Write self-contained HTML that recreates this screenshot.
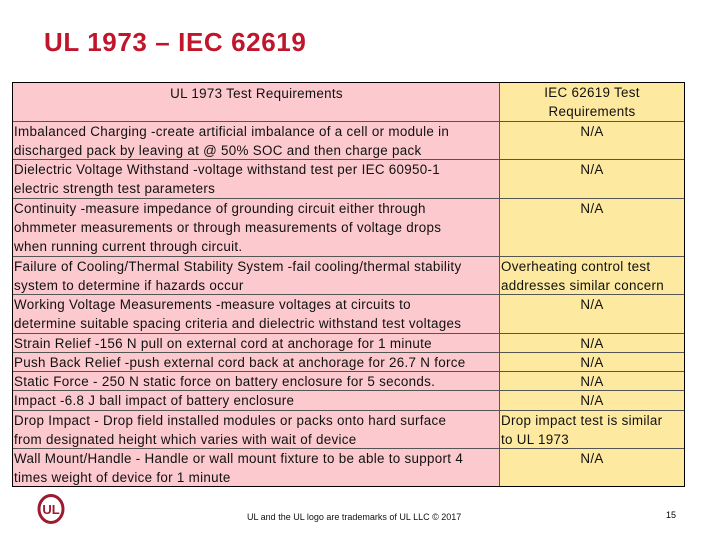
<!DOCTYPE html>
<html><head><meta charset="utf-8"><style>
body{margin:0;width:720px;height:540px;background:#fff;position:relative;overflow:hidden;font-family:"Liberation Sans",sans-serif}
.t{position:absolute;left:44px;top:27px;font-size:26px;letter-spacing:0.6px;font-weight:bold;color:#c0162c}
#tbl{position:absolute;left:12px;top:82px;width:671px;height:403px;border:1px solid #000}
.c{position:absolute;box-sizing:border-box;font-size:13.4px;letter-spacing:0.3px;line-height:19.2px;color:#111;white-space:nowrap;overflow:hidden;border-bottom:1px solid #555}
.l{left:0;width:486px;background:#fcc9cf;padding-left:1px}
.r{left:486px;width:185px;background:#fde9a0;border-left:1px solid #555;text-align:center}
.r.lf{text-align:left;padding-left:1px}
.h{text-align:center;padding-top:1px}
.ft{position:absolute;top:512px;left:247px;font-size:9px;color:#111}
.pg{position:absolute;top:510px;left:666px;font-size:9px}
</style></head><body>
<div class="t">UL 1973 – IEC 62619</div>
<div id="tbl">
<div class="c l h" style="top:0;height:39px">UL 1973 Test Requirements</div>
<div class="c r" style="top:0;height:39px">IEC 62619 Test<br>Requirements</div>
<div class="c l" style="top:39px;height:38px">Imbalanced Charging -create artificial imbalance of a cell or module in<br>discharged pack by leaving at @ 50% SOC and then charge pack</div>
<div class="c r" style="top:39px;height:38px">N/A</div>
<div class="c l" style="top:77px;height:39px">Dielectric Voltage Withstand -voltage withstand test per IEC 60950-1<br>electric strength test parameters</div>
<div class="c r" style="top:77px;height:39px">N/A</div>
<div class="c l" style="top:116px;height:58px">Continuity -measure impedance of grounding circuit either through<br>ohmmeter measurements or through measurements of voltage drops<br>when running current through circuit.</div>
<div class="c r" style="top:116px;height:58px">N/A</div>
<div class="c l" style="top:174px;height:38px">Failure of Cooling/Thermal Stability System -fail cooling/thermal stability<br>system to determine if hazards occur</div>
<div class="c r lf" style="top:174px;height:38px">Overheating control test<br>addresses similar concern</div>
<div class="c l" style="top:212px;height:39px">Working Voltage Measurements -measure voltages at circuits to<br>determine suitable spacing criteria and dielectric withstand test voltages</div>
<div class="c r" style="top:212px;height:39px">N/A</div>
<div class="c l" style="top:251px;height:19px">Strain Relief -156 N pull on external cord at anchorage for 1 minute</div>
<div class="c r" style="top:251px;height:19px">N/A</div>
<div class="c l" style="top:270px;height:19px">Push Back Relief -push external cord back at anchorage for 26.7 N force</div>
<div class="c r" style="top:270px;height:19px">N/A</div>
<div class="c l" style="top:289px;height:19px">Static Force - 250 N static force on battery enclosure for 5 seconds.</div>
<div class="c r" style="top:289px;height:19px">N/A</div>
<div class="c l" style="top:308px;height:20px">Impact -6.8 J ball impact of battery enclosure</div>
<div class="c r" style="top:308px;height:20px">N/A</div>
<div class="c l" style="top:328px;height:38px">Drop Impact - Drop field installed modules or packs onto hard surface<br>from designated height which varies with wait of device</div>
<div class="c r lf" style="top:328px;height:38px">Drop impact test is similar<br>to UL 1973</div>
<div class="c l" style="top:366px;height:37px;border-bottom:none">Wall Mount/Handle - Handle or wall mount fixture to be able to support 4<br>times weight of device for 1 minute</div>
<div class="c r" style="top:366px;height:37px;border-bottom:none">N/A</div>
</div>
<svg style="position:absolute;left:36px;top:494px" width="32" height="32"><ellipse cx="15" cy="15" rx="12" ry="13.5" fill="none" stroke="#9b1b30" stroke-width="3"/><text x="15" y="20" text-anchor="middle" font-family="Liberation Sans" font-weight="bold" font-size="13" fill="#9b1b30">UL</text></svg>
<div class="ft">UL and the UL logo are trademarks of UL LLC © 2017</div>
<div class="pg">15</div>
</body></html>
